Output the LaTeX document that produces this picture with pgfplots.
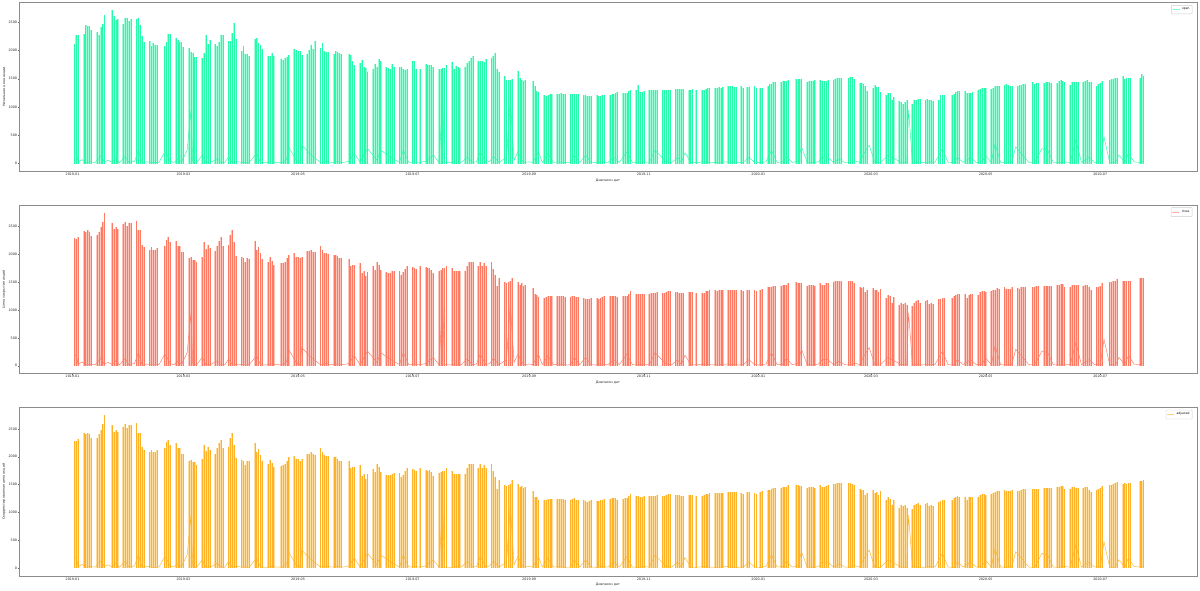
\documentclass[border=0pt]{standalone}
\usepackage{pgfplots}
\pgfplotsset{compat=1.18}
\usepackage{pgfplotstable}
\usepackage{fontspec}
\setmainfont{DejaVu Sans}
\definecolor{copen}{HTML}{00FA9A}
\definecolor{cclose}{HTML}{FF6347}
\definecolor{cadj}{HTML}{FFA500}
\pgfplotstableread{
d open close
1 2119 2285
2 2267 2273
3 2267 2315
6 2296 2422
7 2443 2404
8 2425 2434
9 2425 2404
10 2367 2332
13 2325 2344
14 2267 2404
15 2414 2481
16 2460 2582
17 2620 2749
21 2708 2570
22 2602 2451
23 2531 2481
24 2561 2451
27 2460 2541
28 2578 2588
29 2578 2511
30 2520 2570
31 2561 2570
34 2561 2600
35 2578 2434
36 2443 2434
37 2249 2172
38 2149 2124
41 2160 2083
42 2072 2124
43 2131 2083
44 2090 2083
45 2090 2112
49 2072 2154
50 2149 2261
51 2296 2303
52 2296 2213
55 2220 2243
56 2178 2154
57 2149 2154
58 2149 2047
59 2060 2047
62 2043 1928
63 1972 1946
64 1954 1898
65 1884 1898
66 1884 1856
69 1866 1958
70 1954 2213
71 2267 2094
72 2119 2166
73 2190 2112
76 2119 2053
77 2072 2154
78 2149 2243
79 2267 2303
80 2278 2154
83 2166 2166
84 2166 2344
85 2308 2434
86 2484 2213
87 2208 1975
90 1990 1946
91 2072 1928
92 1931 1856
93 1931 1928
94 1896 1916
97 2196 2243
98 2225 2077
99 2131 2136
100 2102 2023
101 2031 1916
104 1901 1868
105 1901 1946
106 1954 1886
107 1901 1815
111 1854 1839
112 1837 1850
113 1866 1868
114 1890 1930
115 1913 1993
118 2019 2017
119 2002 1958
120 1990 1958
121 1990 1928
122 1913 1958
125 1931 2053
126 2013 2053
127 2090 2077
128 2031 2047
129 2160 2035
132 2043 2154
133 2137 2077
134 1990 2023
135 1972 2017
136 1972 2005
139 1931 1993
140 1984 1987
141 1972 1964
142 1954 1928
143 1943 1928
147 1943 1916
148 1913 1797
149 1813 1815
150 1737 1809
153 1784 1845
154 1837 1660
155 1707 1696
156 1695 1607
157 1619 1690
160 1678 1785
161 1766 1720
162 1707 1868
163 1854 1809
164 1807 1720
167 1707 1678
168 1690 1666
169 1666 1666
170 1766 1696
171 1707 1708
174 1707 1708
175 1707 1636
176 1678 1678
177 1660 1737
178 1678 1797
181 1807 1779
182 1807 1755
183 1678 1737
185 1666 1797
188 1766 1767
189 1749 1749
190 1737 1755
191 1737 1726
192 1707 1660
195 1678 1708
196 1678 1720
197 1690 1749
198 1690 1749
199 1749 1797
202 1796 1749
203 1678 1696
204 1719 1696
205 1707 1696
206 1690 1696
209 1707 1696
210 1778 1797
211 1813 1868
212 1872 1868
213 1896 1868
216 1807 1797
217 1807 1868
218 1807 1797
219 1796 1845
220 1854 1797
223 1872 1868
224 1896 1737
225 1954 1630
226 1678 1428
227 1619 1577
230 1542 1499
231 1484 1481
232 1472 1499
233 1472 1517
234 1489 1583
237 1637 1511
238 1513 1458
239 1484 1481
240 1460 1440
241 1484 1458
245 1454 1392
246 1366 1279
247 1283 1273
248 1266 1232
251 1207 1220
252 1201 1232
253 1207 1244
254 1225 1244
255 1236 1244
258 1236 1244
259 1238 1244
260 1240 1246
261 1236 1244
262 1232 1232
265 1225 1232
266 1236 1244
267 1236 1250
268 1225 1232
269 1225 1232
272 1219 1220
273 1213 1202
274 1189 1190
275 1189 1202
276 1189 1220
279 1207 1214
280 1195 1202
281 1201 1220
282 1219 1232
283 1219 1244
286 1219 1244
287 1236 1256
288 1236 1256
289 1248 1256
290 1260 1232
293 1254 1244
294 1254 1250
295 1254 1256
296 1277 1291
297 1295 1339
300 1307 1291
301 1389 1291
302 1266 1279
303 1266 1279
304 1277 1291
307 1295 1291
308 1295 1303
309 1295 1303
310 1307 1303
311 1307 1321
314 1307 1303
315 1307 1303
316 1307 1315
317 1295 1333
318 1295 1339
321 1325 1321
322 1325 1321
323 1325 1309
324 1313 1303
325 1313 1303
328 1307 1315
329 1307 1315
330 1313 1315
332 1307 1303
335 1295 1303
336 1295 1309
337 1319 1333
338 1331 1339
339 1331 1351
342 1342 1351
343 1340 1349
344 1345 1352
345 1342 1351
346 1348 1355
349 1366 1368
350 1366 1368
351 1366 1368
352 1354 1363
353 1354 1363
356 1366 1351
357 1342 1339
359 1354 1368
360 1354 1368
363 1366 1351
364 1342 1339
366 1342 1368
367 1342 1380
370 1366 1410
371 1401 1410
372 1413 1422
373 1442 1434
374 1442 1440
377 1442 1440
378 1454 1452
379 1454 1452
380 1454 1458
381 1472 1493
385 1489 1499
386 1501 1493
387 1501 1481
388 1495 1481
391 1442 1440
392 1454 1458
393 1454 1458
394 1460 1452
395 1472 1440
398 1472 1493
399 1466 1458
400 1466 1458
401 1460 1481
402 1472 1493
405 1472 1511
406 1501 1517
407 1519 1529
408 1519 1529
409 1519 1529
413 1519 1529
414 1525 1529
415 1525 1517
416 1501 1488
419 1431 1422
420 1431 1398
421 1401 1410
422 1366 1321
423 1283 1351
426 1342 1398
427 1395 1351
428 1354 1368
429 1354 1321
430 1266 1380
433 1207 1220
434 1254 1273
435 1248 1244
436 1119 1125
437 1178 1232
440 1101 1083
441 1089 1125
442 1060 1113
443 1089 1125
444 1130 1083
447 1060 1065
448 1119 1125
449 1130 1154
450 1136 1172
451 1136 1125
454 1119 1154
455 1148 1172
456 1130 1113
457 1119 1125
458 1107 1113
461 1130 1190
462 1219 1202
463 1207 1220
464 1219 1220
468 1207 1220
469 1236 1250
470 1266 1273
471 1283 1291
472 1283 1279
475 1277 1279
476 1248 1220
477 1248 1273
478 1248 1279
479 1266 1279
482 1295 1273
483 1325 1321
484 1342 1339
485 1336 1333
486 1336 1321
489 1313 1339
490 1342 1351
491 1366 1363
492 1366 1392
493 1378 1380
496 1384 1410
497 1413 1380
498 1384 1380
499 1366 1380
500 1366 1410
503 1366 1392
504 1384 1380
505 1395 1410
506 1413 1422
507 1413 1422
511 1442 1422
512 1413 1422
513 1425 1428
514 1425 1428
517 1431 1440
518 1437 1440
519 1442 1434
520 1442 1434
521 1425 1440
524 1425 1458
525 1454 1458
526 1472 1470
527 1454 1470
528 1437 1422
531 1395 1422
532 1448 1452
533 1448 1458
534 1448 1446
535 1448 1446
538 1442 1440
539 1460 1458
540 1472 1458
541 1437 1410
542 1437 1368
545 1366 1410
546 1401 1422
547 1425 1440
548 1454 1481
552 1484 1499
553 1495 1499
554 1501 1517
555 1507 1529
556 1513 1553
559 1554 1517
560 1495 1529
561 1519 1517
562 1513 1529
563 1519 1529
568 1519 1571
569 1578 1571
570 1548 1577
}\hi
\pgfplotstableread{
d low
1 180
2 190
3 20
5 70
7 15
9 30
12 20
15 130
17 30
19 60
21 20
23 90
25 15
28 130
30 20
33 40
35 235
37 20
40 30
43 15
46 20
49 205
50 170
52 40
54 20
56 80
58 30
61 235
63 940
64 20
66 15
69 150
71 20
74 30
77 90
79 20
81 15
83 120
85 20
88 30
91 15
94 20
98 180
100 20
103 15
106 30
109 20
112 15
114 80
115 295
119 60
121 20
122 325
127 150
132 20
135 40
138 20
141 30
144 20
147 40
150 180
153 20
157 265
162 60
164 235
169 120
174 20
176 235
179 20
182 30
185 20
188 40
192 150
195 20
197 1118
198 20
201 15
204 30
207 20
210 120
213 20
215 30
217 206
220 20
222 40
224 130
227 20
231 110
233 1118
235 60
237 206
240 20
243 30
245 20
248 206
250 20
253 177
256 20
259 30
262 15
265 20
267 150
270 20
273 150
276 20
279 15
282 30
285 20
288 110
291 20
295 206
298 20
301 15
304 30
307 20
310 235
316 30
319 20
322 110
324 20
326 190
329 20
332 15
336 30
339 20
342 15
345 20
348 30
351 20
354 15
357 20
360 110
363 20
366 15
369 30
372 235
375 20
378 30
380 130
383 20
386 40
388 295
391 20
394 15
397 30
399 110
402 110
405 20
408 80
411 20
414 15
416 50
419 20
421 165
424 324
427 20
430 15
434 150
441 20
444 15
445 950
447 30
450 20
453 15
456 30
459 20
463 265
466 20
469 15
471 110
474 20
478 110
481 20
484 30
486 140
489 20
491 353
494 20
497 15
500 30
502 295
509 20
512 15
516 265
519 235
522 20
525 15
528 30
531 20
534 412
537 20
541 110
544 20
547 30
549 470
552 20
555 15
557 150
560 20
562 180
565 30
568 20
570 40
}\lo
\newcommand{\tinyf}{\fontsize{3.3}{4}\selectfont}
\pgfplotsset{
  panel/.style={
    scale only axis, width=1178pt, height=168.5pt,
    anchor=north west,
    xmin=-28.5, xmax=598.5,
    xtick={0,59,120,181,243,304,365,425,486,547},
    xticklabels={2019-01,2019-03,2019-05,2019-07,2019-09,2019-11,2020-01,2020-03,2020-05,2020-07},
    ytick={0,500,1000,1500,2000,2500},
    tick pos=left, tick align=outside, major tick length=1.2pt,
    tick style={black!60, line width=0.3pt},
    axis line style={black!45, line width=0.5pt},
    ticklabel style={font=\tinyf, text=black!85, inner sep=0.6pt},
    /pgf/number format/assume math mode=true,
    /pgf/number format/1000 sep={},
    xlabel={Диапазон дат},
    every axis x label/.style={at={(axis description cs:0.5,0)}, anchor=center, yshift=-9pt, font=\tinyf, text=black!85},
    every axis y label/.style={at={(axis description cs:-0.0127,0.5)}, rotate=90, anchor=center, font=\tinyf, text=black!85},
    legend style={at={(rel axis cs:0.996,0.985)}, anchor=north east, draw=black!20, rounded corners=0.6pt, font=\fontsize{3}{3.5}\selectfont, inner sep=0.6pt, legend cell align=left, row sep=0pt},
    legend image code/.code={\draw[#1] (0pt,0pt) -- (7pt,0pt);},
    fillc/.style={ycomb, line width=1.85pt, forget plot},
    linec/.style={ycomb, line width=0.4pt, forget plot},
    lowc/.style={line width=0.45pt, forget plot},
  },
}
\begin{document}
\begin{tikzpicture}
\useasboundingbox (0,0) rectangle (1200pt,-590pt);
\begin{axis}[panel, at={(19pt,-2.7pt)}, ymin=-135, ymax=2843, ylabel={Начальная цена акции}]
\addplot[copen!38!white, fillc] table[x=d,y=open]{\hi};
\addplot[copen!85!white, linec] table[x=d,y=open]{\hi};
\addplot[copen!85!white, lowc] table[x=d,y=low]{\lo};
\addlegendimage{copen!50!white, line width=1pt}
\addlegendentry{open}
\end{axis}
\begin{axis}[panel, at={(19pt,-204.9pt)}, ymin=-137, ymax=2886, ylabel={Цена закрытия акций}]
\addplot[cclose!38!white, fillc] table[x=d,y=close]{\hi};
\addplot[cclose!85!white, linec] table[x=d,y=close]{\hi};
\addplot[cclose!85!white, lowc] table[x=d,y=low]{\lo};
\addlegendimage{cclose!50!white, line width=1pt}
\addlegendentry{close}
\end{axis}
\begin{axis}[panel, at={(19pt,-407.3pt)}, ymin=-137, ymax=2886, ylabel={Скорректированная цена акций}]
\addplot[cadj!38!white, fillc] table[x=d,y=close]{\hi};
\addplot[cadj!85!white, linec] table[x=d,y=close]{\hi};
\addplot[cadj!85!white, lowc] table[x=d,y=low]{\lo};
\addlegendimage{cadj!50!white, line width=1pt}
\addlegendentry{adjusted}
\end{axis}
\end{tikzpicture}
\end{document}
